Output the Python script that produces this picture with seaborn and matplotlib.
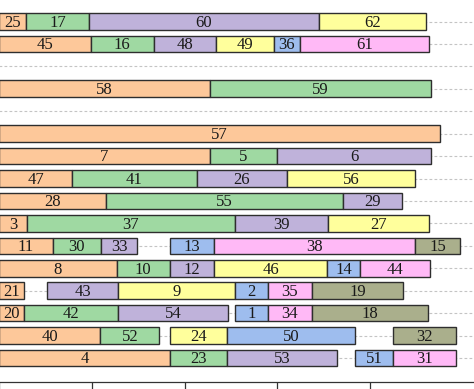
import matplotlib
matplotlib.use("Agg")
import matplotlib.pyplot as plt
import seaborn as sns

# ---- data (rows counted from the top, time in schedule units) ----
rows   = [1, 1, 1, 1,
          2, 2, 2, 2, 2, 2,
          4, 4,
          6,
          7, 7, 7,
          8, 8, 8, 8,
          9, 9, 9,
          10, 10, 10, 10,
          11, 11, 11, 11, 11, 11,
          12, 12, 12, 12, 12, 12,
          13, 13, 13, 13, 13, 13,
          14, 14, 14, 14, 14, 14,
          15, 15, 15, 15, 15,
          16, 16, 16, 16, 16]
jobs   = [25, 17, 60, 62,
          45, 16, 48, 49, 36, 61,
          58, 59,
          57,
          7, 5, 6,
          47, 41, 26, 56,
          28, 55, 29,
          3, 37, 39, 27,
          11, 30, 33, 13, 38, 15,
          8, 10, 12, 46, 14, 44,
          21, 43, 9, 2, 35, 19,
          20, 42, 54, 1, 34, 18,
          40, 52, 24, 50, 32,
          4, 23, 53, 51, 31]
starts = [0, 29, 97, 345,
          0, 99, 167, 234, 296, 325,
          0, 227,
          0,
          0, 227, 300,
          0, 79, 213, 311,
          0, 115, 371,
          0, 30, 254, 355,
          0, 58, 110, 184, 232, 449,
          0, 127, 184, 232, 354, 389,
          0, 52, 128, 254, 290, 337,
          0, 27, 128, 254, 290, 337,
          0, 109, 184, 246, 425,
          0, 184, 246, 384, 425]
ends   = [29, 97, 345, 460,
          99, 167, 234, 296, 325, 464,
          227, 466,
          475,
          227, 300, 466,
          79, 213, 311, 448,
          115, 371, 434,
          30, 254, 355, 464,
          58, 110, 149, 232, 449, 497,
          127, 184, 232, 354, 389, 465,
          27, 128, 254, 290, 337, 436,
          27, 128, 247, 290, 337, 462,
          109, 173, 246, 384, 493,
          184, 246, 364, 425, 493]
stages = [0, 1, 2, 3,
          0, 1, 2, 3, 4, 5,
          0, 1,
          0,
          0, 1, 2,
          0, 1, 2, 3,
          0, 1, 2,
          0, 1, 2, 3,
          0, 1, 2, 4, 5, 6,
          0, 1, 2, 3, 4, 5,
          0, 2, 3, 4, 5, 6,
          0, 1, 2, 4, 5, 6,
          0, 1, 3, 4, 6,
          0, 1, 2, 4, 5]
row_positions = list(range(1, 17))
x_ticks = [0, 100, 200, 300, 400]

stage_colors = ["#FDC89A", "#9FD9A2", "#BFB2DA", "#FFFF9C",
                "#9EBDEE", "#FFB9F6", "#AAAF8C"]

# ---- styling ----
sns.set_theme(style="white")
plt.rcParams["font.family"] = ["Liberation Serif", "DejaVu Serif"]
palette = sns.color_palette(stage_colors)

W, H = 474, 389
fig = plt.figure(figsize=(W / 100, H / 100), dpi=100)

px_per_unit = 0.9275
xmax = 520
left_px = -1.0
row_px = 22.43
ymax = 17.08
top_px = 21.5 - row_px  # position of y = 0
ax_w = xmax * px_per_unit
ax_h = ymax * row_px
ax = fig.add_axes([left_px / W, (H - (top_px + ax_h)) / H, ax_w / W, ax_h / H])

ax.set_xlim(0, xmax)
ax.set_ylim(ymax, 0)

ax.set_axisbelow(True)
ax.set_yticks(row_positions)
ax.set_yticklabels([])
ax.tick_params(axis="y", length=0)
ax.yaxis.grid(True, color="#c4c4c4", linestyle=(0, (2.5, 2.0)), linewidth=0.8)
ax.xaxis.grid(False)

for r, j, s, e, c in zip(rows, jobs, starts, ends, stages):
    ax.barh(r, e - s, left=s, height=0.74, color=palette[c],
            edgecolor="#2e2e2e", linewidth=1.0, zorder=2)
    ax.text((s + e) / 2, r + 0.06, str(j), ha="center", va="center",
            fontsize=12, color="#1a1a1a", zorder=3)

ax.set_xticks(x_ticks)
ax.set_xticklabels([])
ax.tick_params(axis="x", direction="out", length=8, width=0.9,
               color="#333333", bottom=True)
for side in ["top", "right", "left"]:
    ax.spines[side].set_visible(False)
ax.spines["bottom"].set_color("#333333")
ax.spines["bottom"].set_linewidth(0.9)

fig.savefig("out.png", dpi=100)
